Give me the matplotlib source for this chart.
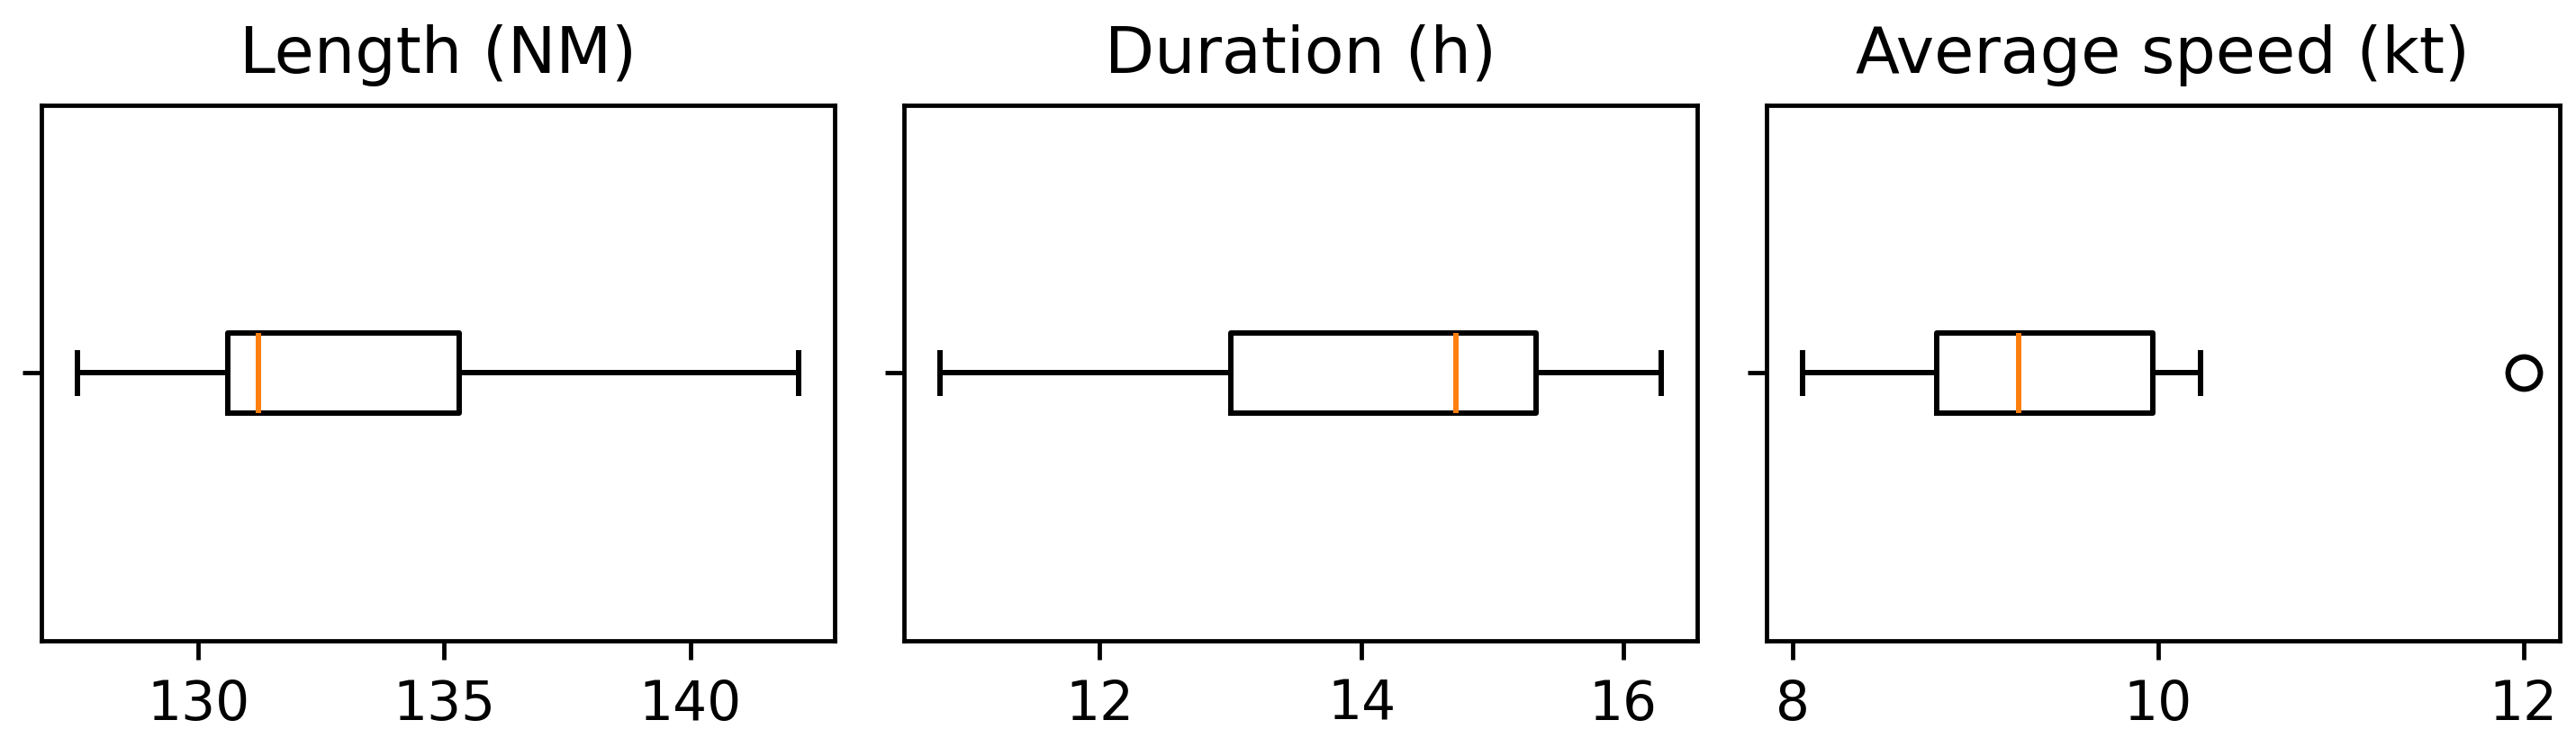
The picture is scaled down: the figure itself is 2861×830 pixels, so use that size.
import matplotlib
matplotlib.use("Agg")
import matplotlib.pyplot as plt

titles = ["Length (NM)", "Duration (h)", "Average speed (kt)"]
whislo = [127.55, 10.78, 8.055]
q1 = [130.60, 13.00, 8.79]
median = [131.22, 14.725, 9.237]
q3 = [135.31, 15.336, 9.97]
whishi = [142.20, 16.29, 10.234]
fliers = [[], [], [12.0]]

DPI = 430
fig, axes = plt.subplots(1, 3, figsize=(2861 / DPI, 830 / DPI), dpi=DPI)
fig.subplots_adjust(left=0.0161, right=0.9937, bottom=0.1422, top=0.8596, wspace=0.0874)

for i, ax in enumerate(axes):
    stats = [{
        "whislo": whislo[i], "q1": q1[i], "med": median[i],
        "q3": q3[i], "whishi": whishi[i], "fliers": fliers[i], "label": "",
    }]
    ax.bxp(stats, orientation="horizontal")
    ax.set_title(titles[i])
    ax.set_yticks([1])
    ax.set_yticklabels([""])

fig.savefig("out.png", dpi=DPI)
